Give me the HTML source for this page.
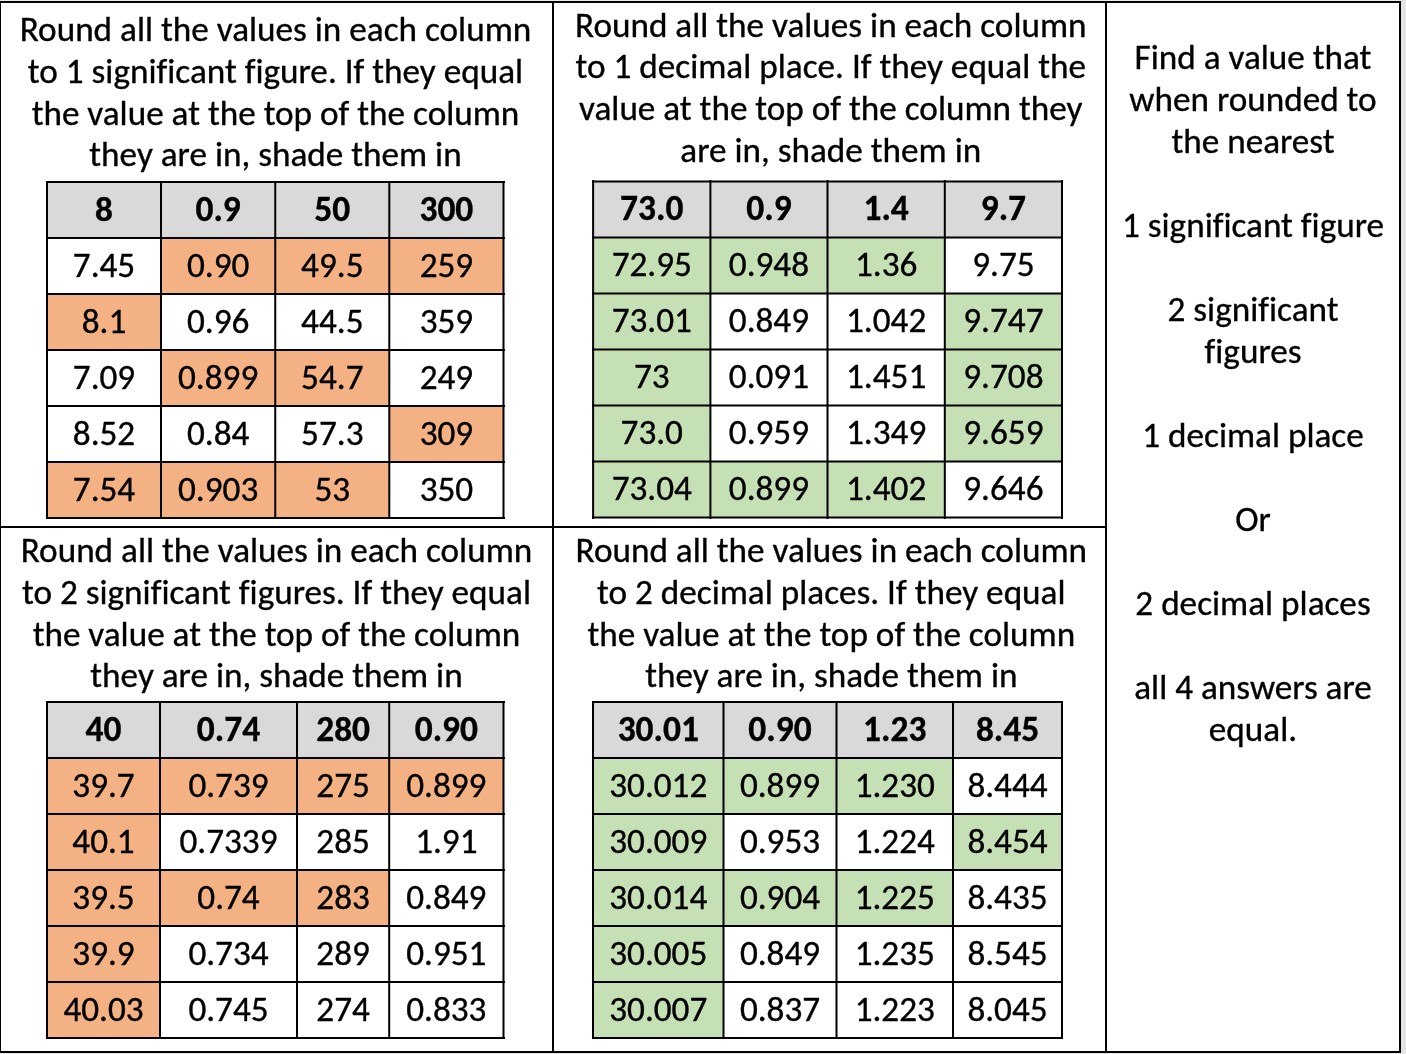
<!DOCTYPE html>
<html><head><meta charset="utf-8"><title>Rounding worksheet</title>
<style>
html,body{margin:0;padding:0;}
body{width:1406px;height:1054px;position:relative;overflow:hidden;background:#fff;
font-family:"Carlito","Liberation Sans",sans-serif;font-size:35.2px;color:#000;font-variant-ligatures:none;font-kerning:normal;-webkit-text-stroke:0.35px #000;}
.wrap{position:absolute;left:0;top:0;width:1406px;height:1054px;will-change:transform;}
.r{position:absolute;}
.p{position:absolute;text-align:center;white-space:nowrap;}
.c{position:absolute;height:56px;line-height:56px;text-align:center;white-space:nowrap;}
.b{font-weight:bold;font-size:35.4px;}
.e{font-size:35.2px;}
.edge-t{position:absolute;left:0;top:0;width:1406px;height:1px;background:#ececec;}
.edge-r{position:absolute;left:1401px;top:0;width:5px;height:1054px;background:#e3e3e3;}
.edge-b{position:absolute;left:0;top:1053px;width:1406px;height:1px;background:#e6e6e6;}
body.nocarlito{font-size:32.2px;}
body.nocarlito .b{font-size:32.4px;}
body.nocarlito .e{font-size:32.2px;}
</style></head><body>
<div class="edge-t"></div><div class="edge-r"></div><div class="edge-b"></div>
<div class="wrap">
<div class="p" style="left:-1.0px;top:8px;width:553px;line-height:41.8px">Round all the values in each column<br>to 1 significant figure. If they equal<br>the value at the top of the column<br>they are in, shade them in</div>
<div class="r" style="left:47px;top:182px;width:114px;height:56px;background:#d9d9d9"></div>
<div class="r" style="left:161px;top:182px;width:114px;height:56px;background:#d9d9d9"></div>
<div class="r" style="left:275px;top:182px;width:114px;height:56px;background:#d9d9d9"></div>
<div class="r" style="left:389px;top:182px;width:115px;height:56px;background:#d9d9d9"></div>
<div class="r" style="left:161px;top:238px;width:114px;height:56px;background:#f4b183"></div>
<div class="r" style="left:275px;top:238px;width:114px;height:56px;background:#f4b183"></div>
<div class="r" style="left:389px;top:238px;width:115px;height:56px;background:#f4b183"></div>
<div class="r" style="left:47px;top:294px;width:114px;height:56px;background:#f4b183"></div>
<div class="r" style="left:161px;top:350px;width:114px;height:56px;background:#f4b183"></div>
<div class="r" style="left:275px;top:350px;width:114px;height:56px;background:#f4b183"></div>
<div class="r" style="left:389px;top:406px;width:115px;height:56px;background:#f4b183"></div>
<div class="r" style="left:47px;top:462px;width:114px;height:56px;background:#f4b183"></div>
<div class="r" style="left:161px;top:462px;width:114px;height:56px;background:#f4b183"></div>
<div class="r" style="left:275px;top:462px;width:114px;height:56px;background:#f4b183"></div>
<div class="c b" style="left:48.00px;top:181px;width:112.00px"><span class="e">8</span></div>
<div class="c b" style="left:162.00px;top:181px;width:112.25px">0.9</div>
<div class="c b" style="left:276.25px;top:181px;width:112.05px">50</div>
<div class="c b" style="left:390.30px;top:181px;width:112.20px">300</div>
<div class="c" style="left:48.00px;top:237px;width:112.00px">7.45</div>
<div class="c" style="left:162.00px;top:237px;width:112.25px">0.90</div>
<div class="c" style="left:276.25px;top:237px;width:112.05px">49.5</div>
<div class="c" style="left:390.30px;top:237px;width:112.20px">259</div>
<div class="c" style="left:48.00px;top:293px;width:112.00px">8.1</div>
<div class="c" style="left:162.00px;top:293px;width:112.25px">0.96</div>
<div class="c" style="left:276.25px;top:293px;width:112.05px">44.5</div>
<div class="c" style="left:390.30px;top:293px;width:112.20px">359</div>
<div class="c" style="left:48.00px;top:349px;width:112.00px">7.09</div>
<div class="c" style="left:162.00px;top:349px;width:112.25px">0.899</div>
<div class="c" style="left:276.25px;top:349px;width:112.05px">54.7</div>
<div class="c" style="left:390.30px;top:349px;width:112.20px">249</div>
<div class="c" style="left:48.00px;top:405px;width:112.00px">8.52</div>
<div class="c" style="left:162.00px;top:405px;width:112.25px">0.84</div>
<div class="c" style="left:276.25px;top:405px;width:112.05px">57.3</div>
<div class="c" style="left:390.30px;top:405px;width:112.20px">309</div>
<div class="c" style="left:48.00px;top:461px;width:112.00px">7.54</div>
<div class="c" style="left:162.00px;top:461px;width:112.25px">0.903</div>
<div class="c" style="left:276.25px;top:461px;width:112.05px">53</div>
<div class="c" style="left:390.30px;top:461px;width:112.20px">350</div>
<div class="r" style="left:46px;top:181px;width:459px;height:1px;background:#000"></div>
<div class="r" style="left:46px;top:182px;width:459px;height:1px;background:#000"></div>
<div class="r" style="left:46px;top:237px;width:459px;height:1px;background:#000"></div>
<div class="r" style="left:46px;top:238px;width:459px;height:1px;background:#000"></div>
<div class="r" style="left:46px;top:293px;width:459px;height:1px;background:#000"></div>
<div class="r" style="left:46px;top:294px;width:459px;height:1px;background:#000"></div>
<div class="r" style="left:46px;top:349px;width:459px;height:1px;background:#000"></div>
<div class="r" style="left:46px;top:350px;width:459px;height:1px;background:#000"></div>
<div class="r" style="left:46px;top:405px;width:459px;height:1px;background:#000"></div>
<div class="r" style="left:46px;top:406px;width:459px;height:1px;background:#000"></div>
<div class="r" style="left:46px;top:461px;width:459px;height:1px;background:#000"></div>
<div class="r" style="left:46px;top:462px;width:459px;height:1px;background:#000"></div>
<div class="r" style="left:46px;top:517px;width:459px;height:1px;background:#000"></div>
<div class="r" style="left:46px;top:518px;width:459px;height:1px;background:#000"></div>
<div class="r" style="left:46px;top:181px;width:1px;height:338px;background:#000"></div>
<div class="r" style="left:47px;top:181px;width:1px;height:338px;background:#000"></div>
<div class="r" style="left:160px;top:181px;width:1px;height:338px;background:#000"></div>
<div class="r" style="left:161px;top:181px;width:1px;height:338px;background:#000"></div>
<div class="r" style="left:274px;top:181px;width:1px;height:338px;background:rgba(0,0,0,0.75)"></div>
<div class="r" style="left:275px;top:181px;width:1px;height:338px;background:#000"></div>
<div class="r" style="left:276px;top:181px;width:1px;height:338px;background:rgba(0,0,0,0.25)"></div>
<div class="r" style="left:388px;top:181px;width:1px;height:338px;background:rgba(0,0,0,0.70)"></div>
<div class="r" style="left:389px;top:181px;width:1px;height:338px;background:#000"></div>
<div class="r" style="left:390px;top:181px;width:1px;height:338px;background:rgba(0,0,0,0.30)"></div>
<div class="r" style="left:502px;top:181px;width:1px;height:338px;background:rgba(0,0,0,0.50)"></div>
<div class="r" style="left:503px;top:181px;width:1px;height:338px;background:#000"></div>
<div class="r" style="left:504px;top:181px;width:1px;height:338px;background:rgba(0,0,0,0.50)"></div>
<div class="p" style="left:555.3px;top:3.7px;width:551px;line-height:41.8px">Round all the values in each column<br>to 1 decimal place. If they equal the<br>value at the top of the column they<br>are in, shade them in</div>
<div class="r" style="left:593px;top:182px;width:117px;height:56px;background:#d9d9d9"></div>
<div class="r" style="left:710px;top:182px;width:118px;height:56px;background:#d9d9d9"></div>
<div class="r" style="left:828px;top:182px;width:117px;height:56px;background:#d9d9d9"></div>
<div class="r" style="left:945px;top:182px;width:117px;height:56px;background:#d9d9d9"></div>
<div class="r" style="left:593px;top:238px;width:117px;height:56px;background:#c5e0b4"></div>
<div class="r" style="left:710px;top:238px;width:118px;height:56px;background:#c5e0b4"></div>
<div class="r" style="left:828px;top:238px;width:117px;height:56px;background:#c5e0b4"></div>
<div class="r" style="left:593px;top:294px;width:117px;height:56px;background:#c5e0b4"></div>
<div class="r" style="left:945px;top:294px;width:117px;height:56px;background:#c5e0b4"></div>
<div class="r" style="left:593px;top:350px;width:117px;height:56px;background:#c5e0b4"></div>
<div class="r" style="left:945px;top:350px;width:117px;height:56px;background:#c5e0b4"></div>
<div class="r" style="left:593px;top:406px;width:117px;height:56px;background:#c5e0b4"></div>
<div class="r" style="left:945px;top:406px;width:117px;height:56px;background:#c5e0b4"></div>
<div class="r" style="left:593px;top:462px;width:117px;height:56px;background:#c5e0b4"></div>
<div class="r" style="left:710px;top:462px;width:118px;height:56px;background:#c5e0b4"></div>
<div class="r" style="left:828px;top:462px;width:117px;height:56px;background:#c5e0b4"></div>
<div class="c b" style="left:594.10px;top:180.0px;width:115.30px">73.0</div>
<div class="c b" style="left:711.40px;top:180.0px;width:115.10px">0.9</div>
<div class="c b" style="left:828.50px;top:180.0px;width:115.30px">1.4</div>
<div class="c b" style="left:945.80px;top:180.0px;width:115.20px">9.7</div>
<div class="c" style="left:594.10px;top:236.0px;width:115.30px">72.95</div>
<div class="c" style="left:711.40px;top:236.0px;width:115.10px">0.948</div>
<div class="c" style="left:828.50px;top:236.0px;width:115.30px">1.36</div>
<div class="c" style="left:945.80px;top:236.0px;width:115.20px">9.75</div>
<div class="c" style="left:594.10px;top:292.0px;width:115.30px">73.01</div>
<div class="c" style="left:711.40px;top:292.0px;width:115.10px">0.849</div>
<div class="c" style="left:828.50px;top:292.0px;width:115.30px">1.042</div>
<div class="c" style="left:945.80px;top:292.0px;width:115.20px">9.747</div>
<div class="c" style="left:594.10px;top:348.0px;width:115.30px">73</div>
<div class="c" style="left:711.40px;top:348.0px;width:115.10px">0.091</div>
<div class="c" style="left:828.50px;top:348.0px;width:115.30px">1.451</div>
<div class="c" style="left:945.80px;top:348.0px;width:115.20px">9.708</div>
<div class="c" style="left:594.10px;top:404.0px;width:115.30px">73.0</div>
<div class="c" style="left:711.40px;top:404.0px;width:115.10px">0.959</div>
<div class="c" style="left:828.50px;top:404.0px;width:115.30px">1.349</div>
<div class="c" style="left:945.80px;top:404.0px;width:115.20px">9.659</div>
<div class="c" style="left:594.10px;top:460.0px;width:115.30px">73.04</div>
<div class="c" style="left:711.40px;top:460.0px;width:115.10px">0.899</div>
<div class="c" style="left:828.50px;top:460.0px;width:115.30px">1.402</div>
<div class="c" style="left:945.80px;top:460.0px;width:115.20px">9.646</div>
<div class="r" style="left:592px;top:180px;width:471px;height:1px;background:rgba(0,0,0,0.50)"></div>
<div class="r" style="left:592px;top:181px;width:471px;height:1px;background:#000"></div>
<div class="r" style="left:592px;top:182px;width:471px;height:1px;background:rgba(0,0,0,0.50)"></div>
<div class="r" style="left:592px;top:236px;width:471px;height:1px;background:rgba(0,0,0,0.50)"></div>
<div class="r" style="left:592px;top:237px;width:471px;height:1px;background:#000"></div>
<div class="r" style="left:592px;top:238px;width:471px;height:1px;background:rgba(0,0,0,0.50)"></div>
<div class="r" style="left:592px;top:292px;width:471px;height:1px;background:rgba(0,0,0,0.50)"></div>
<div class="r" style="left:592px;top:293px;width:471px;height:1px;background:#000"></div>
<div class="r" style="left:592px;top:294px;width:471px;height:1px;background:rgba(0,0,0,0.50)"></div>
<div class="r" style="left:592px;top:348px;width:471px;height:1px;background:rgba(0,0,0,0.50)"></div>
<div class="r" style="left:592px;top:349px;width:471px;height:1px;background:#000"></div>
<div class="r" style="left:592px;top:350px;width:471px;height:1px;background:rgba(0,0,0,0.50)"></div>
<div class="r" style="left:592px;top:404px;width:471px;height:1px;background:rgba(0,0,0,0.50)"></div>
<div class="r" style="left:592px;top:405px;width:471px;height:1px;background:#000"></div>
<div class="r" style="left:592px;top:406px;width:471px;height:1px;background:rgba(0,0,0,0.50)"></div>
<div class="r" style="left:592px;top:460px;width:471px;height:1px;background:rgba(0,0,0,0.50)"></div>
<div class="r" style="left:592px;top:461px;width:471px;height:1px;background:#000"></div>
<div class="r" style="left:592px;top:462px;width:471px;height:1px;background:rgba(0,0,0,0.50)"></div>
<div class="r" style="left:592px;top:516px;width:471px;height:1px;background:rgba(0,0,0,0.50)"></div>
<div class="r" style="left:592px;top:517px;width:471px;height:1px;background:#000"></div>
<div class="r" style="left:592px;top:518px;width:471px;height:1px;background:rgba(0,0,0,0.50)"></div>
<div class="r" style="left:592px;top:180px;width:1px;height:339px;background:rgba(0,0,0,0.90)"></div>
<div class="r" style="left:593px;top:180px;width:1px;height:339px;background:#000"></div>
<div class="r" style="left:594px;top:180px;width:1px;height:339px;background:rgba(0,0,0,0.10)"></div>
<div class="r" style="left:709px;top:180px;width:1px;height:339px;background:rgba(0,0,0,0.60)"></div>
<div class="r" style="left:710px;top:180px;width:1px;height:339px;background:#000"></div>
<div class="r" style="left:711px;top:180px;width:1px;height:339px;background:rgba(0,0,0,0.40)"></div>
<div class="r" style="left:826px;top:180px;width:1px;height:339px;background:rgba(0,0,0,0.50)"></div>
<div class="r" style="left:827px;top:180px;width:1px;height:339px;background:#000"></div>
<div class="r" style="left:828px;top:180px;width:1px;height:339px;background:rgba(0,0,0,0.50)"></div>
<div class="r" style="left:943px;top:180px;width:1px;height:339px;background:rgba(0,0,0,0.20)"></div>
<div class="r" style="left:944px;top:180px;width:1px;height:339px;background:#000"></div>
<div class="r" style="left:945px;top:180px;width:1px;height:339px;background:rgba(0,0,0,0.80)"></div>
<div class="r" style="left:1061px;top:180px;width:1px;height:339px;background:#000"></div>
<div class="r" style="left:1062px;top:180px;width:1px;height:339px;background:#000"></div>
<div class="p" style="left:0px;top:529px;width:553px;line-height:41.8px">Round all the values in each column<br>to 2 significant figures. If they equal<br>the value at the top of the column<br>they are in, shade them in</div>
<div class="r" style="left:47px;top:702px;width:113px;height:56px;background:#d9d9d9"></div>
<div class="r" style="left:160px;top:702px;width:137px;height:56px;background:#d9d9d9"></div>
<div class="r" style="left:297px;top:702px;width:92px;height:56px;background:#d9d9d9"></div>
<div class="r" style="left:389px;top:702px;width:115px;height:56px;background:#d9d9d9"></div>
<div class="r" style="left:47px;top:758px;width:113px;height:56px;background:#f4b183"></div>
<div class="r" style="left:160px;top:758px;width:137px;height:56px;background:#f4b183"></div>
<div class="r" style="left:297px;top:758px;width:92px;height:56px;background:#f4b183"></div>
<div class="r" style="left:389px;top:758px;width:115px;height:56px;background:#f4b183"></div>
<div class="r" style="left:47px;top:814px;width:113px;height:56px;background:#f4b183"></div>
<div class="r" style="left:47px;top:870px;width:113px;height:56px;background:#f4b183"></div>
<div class="r" style="left:160px;top:870px;width:137px;height:56px;background:#f4b183"></div>
<div class="r" style="left:297px;top:870px;width:92px;height:56px;background:#f4b183"></div>
<div class="r" style="left:47px;top:926px;width:113px;height:56px;background:#f4b183"></div>
<div class="r" style="left:47px;top:982px;width:113px;height:56px;background:#f4b183"></div>
<div class="c b" style="left:48.00px;top:701px;width:111.00px">40</div>
<div class="c b" style="left:161.00px;top:701px;width:135.00px">0.74</div>
<div class="c b" style="left:298.00px;top:701px;width:90.20px">2<span class="e">8</span>0</div>
<div class="c b" style="left:390.20px;top:701px;width:112.30px">0.90</div>
<div class="c" style="left:48.00px;top:757px;width:111.00px">39.7</div>
<div class="c" style="left:161.00px;top:757px;width:135.00px">0.739</div>
<div class="c" style="left:298.00px;top:757px;width:90.20px">275</div>
<div class="c" style="left:390.20px;top:757px;width:112.30px">0.899</div>
<div class="c" style="left:48.00px;top:813px;width:111.00px">40.1</div>
<div class="c" style="left:161.00px;top:813px;width:135.00px">0.7339</div>
<div class="c" style="left:298.00px;top:813px;width:90.20px">285</div>
<div class="c" style="left:390.20px;top:813px;width:112.30px">1.91</div>
<div class="c" style="left:48.00px;top:869px;width:111.00px">39.5</div>
<div class="c" style="left:161.00px;top:869px;width:135.00px">0.74</div>
<div class="c" style="left:298.00px;top:869px;width:90.20px">283</div>
<div class="c" style="left:390.20px;top:869px;width:112.30px">0.849</div>
<div class="c" style="left:48.00px;top:925px;width:111.00px">39.9</div>
<div class="c" style="left:161.00px;top:925px;width:135.00px">0.734</div>
<div class="c" style="left:298.00px;top:925px;width:90.20px">289</div>
<div class="c" style="left:390.20px;top:925px;width:112.30px">0.951</div>
<div class="c" style="left:48.00px;top:981px;width:111.00px">40.03</div>
<div class="c" style="left:161.00px;top:981px;width:135.00px">0.745</div>
<div class="c" style="left:298.00px;top:981px;width:90.20px">274</div>
<div class="c" style="left:390.20px;top:981px;width:112.30px">0.833</div>
<div class="r" style="left:46px;top:701px;width:459px;height:1px;background:#000"></div>
<div class="r" style="left:46px;top:702px;width:459px;height:1px;background:#000"></div>
<div class="r" style="left:46px;top:757px;width:459px;height:1px;background:#000"></div>
<div class="r" style="left:46px;top:758px;width:459px;height:1px;background:#000"></div>
<div class="r" style="left:46px;top:813px;width:459px;height:1px;background:#000"></div>
<div class="r" style="left:46px;top:814px;width:459px;height:1px;background:#000"></div>
<div class="r" style="left:46px;top:869px;width:459px;height:1px;background:#000"></div>
<div class="r" style="left:46px;top:870px;width:459px;height:1px;background:#000"></div>
<div class="r" style="left:46px;top:925px;width:459px;height:1px;background:#000"></div>
<div class="r" style="left:46px;top:926px;width:459px;height:1px;background:#000"></div>
<div class="r" style="left:46px;top:981px;width:459px;height:1px;background:#000"></div>
<div class="r" style="left:46px;top:982px;width:459px;height:1px;background:#000"></div>
<div class="r" style="left:46px;top:1037px;width:459px;height:1px;background:#000"></div>
<div class="r" style="left:46px;top:1038px;width:459px;height:1px;background:#000"></div>
<div class="r" style="left:46px;top:701px;width:1px;height:338px;background:#000"></div>
<div class="r" style="left:47px;top:701px;width:1px;height:338px;background:#000"></div>
<div class="r" style="left:159px;top:701px;width:1px;height:338px;background:#000"></div>
<div class="r" style="left:160px;top:701px;width:1px;height:338px;background:#000"></div>
<div class="r" style="left:296px;top:701px;width:1px;height:338px;background:#000"></div>
<div class="r" style="left:297px;top:701px;width:1px;height:338px;background:#000"></div>
<div class="r" style="left:388px;top:701px;width:1px;height:338px;background:rgba(0,0,0,0.80)"></div>
<div class="r" style="left:389px;top:701px;width:1px;height:338px;background:#000"></div>
<div class="r" style="left:390px;top:701px;width:1px;height:338px;background:rgba(0,0,0,0.20)"></div>
<div class="r" style="left:502px;top:701px;width:1px;height:338px;background:rgba(0,0,0,0.50)"></div>
<div class="r" style="left:503px;top:701px;width:1px;height:338px;background:#000"></div>
<div class="r" style="left:504px;top:701px;width:1px;height:338px;background:rgba(0,0,0,0.50)"></div>
<div class="p" style="left:555.8px;top:529px;width:551px;line-height:41.8px">Round all the values in each column<br>to 2 decimal places. If they equal<br>the value at the top of the column<br>they are in, shade them in</div>
<div class="r" style="left:593px;top:702px;width:131px;height:56px;background:#d9d9d9"></div>
<div class="r" style="left:724px;top:702px;width:112px;height:56px;background:#d9d9d9"></div>
<div class="r" style="left:836px;top:702px;width:117px;height:56px;background:#d9d9d9"></div>
<div class="r" style="left:953px;top:702px;width:109px;height:56px;background:#d9d9d9"></div>
<div class="r" style="left:593px;top:758px;width:131px;height:56px;background:#c5e0b4"></div>
<div class="r" style="left:724px;top:758px;width:112px;height:56px;background:#c5e0b4"></div>
<div class="r" style="left:836px;top:758px;width:117px;height:56px;background:#c5e0b4"></div>
<div class="r" style="left:593px;top:814px;width:131px;height:56px;background:#c5e0b4"></div>
<div class="r" style="left:953px;top:814px;width:109px;height:56px;background:#c5e0b4"></div>
<div class="r" style="left:593px;top:870px;width:131px;height:56px;background:#c5e0b4"></div>
<div class="r" style="left:724px;top:870px;width:112px;height:56px;background:#c5e0b4"></div>
<div class="r" style="left:836px;top:870px;width:117px;height:56px;background:#c5e0b4"></div>
<div class="r" style="left:593px;top:926px;width:131px;height:56px;background:#c5e0b4"></div>
<div class="r" style="left:593px;top:982px;width:131px;height:56px;background:#c5e0b4"></div>
<div class="c b" style="left:594.00px;top:701px;width:128.50px">30.01</div>
<div class="c b" style="left:724.50px;top:701px;width:111.00px">0.90</div>
<div class="c b" style="left:837.50px;top:701px;width:114.50px">1.23</div>
<div class="c b" style="left:954.00px;top:701px;width:107.00px"><span class="e">8</span>.45</div>
<div class="c" style="left:594.00px;top:757px;width:128.50px">30.012</div>
<div class="c" style="left:724.50px;top:757px;width:111.00px">0.899</div>
<div class="c" style="left:837.50px;top:757px;width:114.50px">1.230</div>
<div class="c" style="left:954.00px;top:757px;width:107.00px">8.444</div>
<div class="c" style="left:594.00px;top:813px;width:128.50px">30.009</div>
<div class="c" style="left:724.50px;top:813px;width:111.00px">0.953</div>
<div class="c" style="left:837.50px;top:813px;width:114.50px">1.224</div>
<div class="c" style="left:954.00px;top:813px;width:107.00px">8.454</div>
<div class="c" style="left:594.00px;top:869px;width:128.50px">30.014</div>
<div class="c" style="left:724.50px;top:869px;width:111.00px">0.904</div>
<div class="c" style="left:837.50px;top:869px;width:114.50px">1.225</div>
<div class="c" style="left:954.00px;top:869px;width:107.00px">8.435</div>
<div class="c" style="left:594.00px;top:925px;width:128.50px">30.005</div>
<div class="c" style="left:724.50px;top:925px;width:111.00px">0.849</div>
<div class="c" style="left:837.50px;top:925px;width:114.50px">1.235</div>
<div class="c" style="left:954.00px;top:925px;width:107.00px">8.545</div>
<div class="c" style="left:594.00px;top:981px;width:128.50px">30.007</div>
<div class="c" style="left:724.50px;top:981px;width:111.00px">0.837</div>
<div class="c" style="left:837.50px;top:981px;width:114.50px">1.223</div>
<div class="c" style="left:954.00px;top:981px;width:107.00px">8.045</div>
<div class="r" style="left:592px;top:701px;width:471px;height:1px;background:#000"></div>
<div class="r" style="left:592px;top:702px;width:471px;height:1px;background:#000"></div>
<div class="r" style="left:592px;top:757px;width:471px;height:1px;background:#000"></div>
<div class="r" style="left:592px;top:758px;width:471px;height:1px;background:#000"></div>
<div class="r" style="left:592px;top:813px;width:471px;height:1px;background:#000"></div>
<div class="r" style="left:592px;top:814px;width:471px;height:1px;background:#000"></div>
<div class="r" style="left:592px;top:869px;width:471px;height:1px;background:#000"></div>
<div class="r" style="left:592px;top:870px;width:471px;height:1px;background:#000"></div>
<div class="r" style="left:592px;top:925px;width:471px;height:1px;background:#000"></div>
<div class="r" style="left:592px;top:926px;width:471px;height:1px;background:#000"></div>
<div class="r" style="left:592px;top:981px;width:471px;height:1px;background:#000"></div>
<div class="r" style="left:592px;top:982px;width:471px;height:1px;background:#000"></div>
<div class="r" style="left:592px;top:1037px;width:471px;height:1px;background:#000"></div>
<div class="r" style="left:592px;top:1038px;width:471px;height:1px;background:#000"></div>
<div class="r" style="left:592px;top:701px;width:1px;height:338px;background:#000"></div>
<div class="r" style="left:593px;top:701px;width:1px;height:338px;background:#000"></div>
<div class="r" style="left:722px;top:701px;width:1px;height:338px;background:rgba(0,0,0,0.50)"></div>
<div class="r" style="left:723px;top:701px;width:1px;height:338px;background:#000"></div>
<div class="r" style="left:724px;top:701px;width:1px;height:338px;background:rgba(0,0,0,0.50)"></div>
<div class="r" style="left:835px;top:701px;width:1px;height:338px;background:rgba(0,0,0,0.50)"></div>
<div class="r" style="left:836px;top:701px;width:1px;height:338px;background:#000"></div>
<div class="r" style="left:837px;top:701px;width:1px;height:338px;background:rgba(0,0,0,0.50)"></div>
<div class="r" style="left:952px;top:701px;width:1px;height:338px;background:#000"></div>
<div class="r" style="left:953px;top:701px;width:1px;height:338px;background:#000"></div>
<div class="r" style="left:1061px;top:701px;width:1px;height:338px;background:#000"></div>
<div class="r" style="left:1062px;top:701px;width:1px;height:338px;background:#000"></div>
<div class="p" style="left:1107px;top:36px;width:292px;line-height:42px">Find a value that<br>when rounded to<br>the nearest<br><br>1 significant figure<br><br>2 significant<br>figures<br><br>1 decimal place<br><br>Or<br><br>2 decimal places<br><br>all 4 answers are<br>equal.</div>
<div class="r" style="left:0px;top:1px;width:1401px;height:2px;background:#000"></div>
<div class="r" style="left:0px;top:1051px;width:1401px;height:2px;background:#000"></div>
<div class="r" style="left:0px;top:1px;width:1px;height:1052px;background:#000"></div>
<div class="r" style="left:1399px;top:1px;width:2px;height:1052px;background:#000"></div>
<div class="r" style="left:552px;top:1px;width:2px;height:1052px;background:#000"></div>
<div class="r" style="left:1105px;top:1px;width:2px;height:1052px;background:#000"></div>
<div class="r" style="left:0px;top:526px;width:1107px;height:2px;background:#000"></div>
</div>
<script>
(function(){
  var s=document.createElement('span');
  s.textContent='Round all the values mmmwwwiiilll 0123456789';
  s.style.cssText='position:absolute;visibility:hidden;font-size:40px;white-space:nowrap;font-family:monospace';
  document.body.appendChild(s);
  var w1=s.offsetWidth;
  s.style.fontFamily='Carlito,monospace';
  var w2=s.offsetWidth;
  document.body.removeChild(s);
  if(w1===w2){document.body.className+=' nocarlito';}
})();
</script>
</body></html>
